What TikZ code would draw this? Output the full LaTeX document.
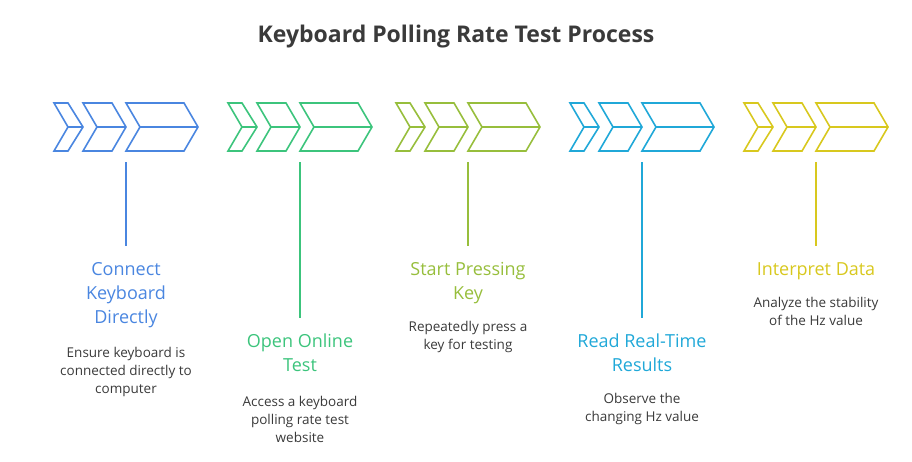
\documentclass[tikz,border=0pt]{standalone}
\usepackage{fontspec}
\setmainfont{Open Sans}
\definecolor{cA}{HTML}{4A86E0}
\definecolor{cB}{HTML}{3CC47C}
\definecolor{cC}{HTML}{97BE3C}
\definecolor{cD}{HTML}{20A8D8}
\definecolor{cE}{HTML}{D8C81E}
\definecolor{tx}{HTML}{3A3A3A}
\tikzset{
 head/.style={align=center,font=\fontsize{18}{24}\selectfont,inner sep=0pt,anchor=north},
 desc/.style={align=center,font=\fontsize{13.5}{18}\selectfont,text=tx,inner sep=0pt,anchor=north},
 chev/.style={line width=1.6pt,line join=miter},
 stem/.style={line width=1.6pt}
}
\newcommand{\grp}[4]{% x, color, name, stem bottom
 \begin{scope}[shift={(#1,0)}]
 \draw[chev,#2] (0,103)--(14,103)--(29,127)--(14,151)--(0,151)--(14,127)--cycle (14,127)--(29,127);
 \draw[chev,#2] (29,103)--(58,103)--(72,127)--(58,151)--(29,151)--(43,127)--cycle (43,127)--(72,127);
 \draw[chev,#2] (72,103)--(130,103)--(144,127)--(130,151)--(72,151)--(86,127)--cycle (86,127)--(144,127);
 \coordinate (#3t) at (72,162); \coordinate (#3b) at (72,#4);
 \draw[stem,#2] (#3t)--(#3b);
 \end{scope}}
\begin{document}
\begin{tikzpicture}[x=1pt,y=-1pt]
\useasboundingbox (0,0) rectangle (912,461);
\node[font=\bfseries\fontsize{23}{27}\selectfont,text=tx] (title) at (456,37) {Keyboard Polling Rate Test Process};
\grp{54}{cA}{a}{246}
\grp{228}{cB}{b}{318}
\grp{396}{cC}{c}{246}
\grp{570}{cD}{d}{318}
\grp{744}{cE}{e}{246}
\node[head,text=cA] (ah) at (126,262) {Connect\\Keyboard\\Directly};
\node[desc] (ad) at (126,347) {Ensure keyboard is\\connected directly to\\computer};
\node[head,text=cB] (bh) at (300,334) {Open Online\\Test};
\node[desc] (bd) at (300,396) {Access a keyboard\\polling rate test\\website};
\node[head,text=cC] (ch) at (468,262) {Start Pressing\\Key};
\node[desc] (cd) at (468,321) {Repeatedly press a\\key for testing};
\node[head,text=cD] (dh) at (642,334) {Read Real-Time\\Results};
\node[desc] (dd) at (642,393) {Observe the\\changing Hz value};
\node[head,text=cE] (eh) at (816,262) {Interpret Data};
\node[desc] (ed) at (816,297) {Analyze the stability\\of the Hz value};
\end{tikzpicture}
\end{document}
